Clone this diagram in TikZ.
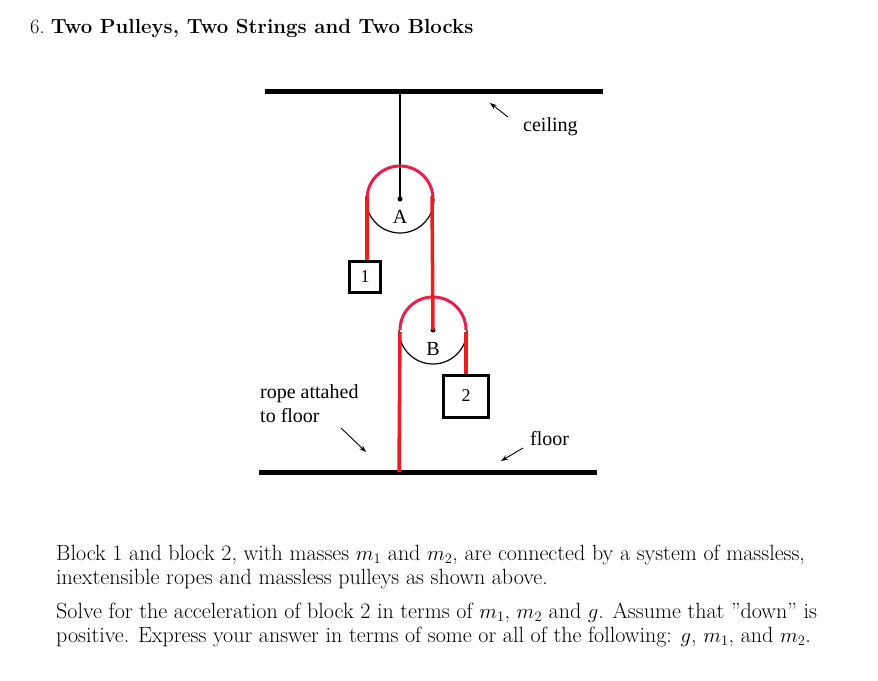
\documentclass[tikz,border=0pt]{standalone}
\usepackage{fontspec}
\usetikzlibrary{arrows.meta}
\newfontfamily\tnr{Liberation Serif}
\begin{document}
\begin{tikzpicture}[x=1pt,y=-1pt,
  bar/.style={line width=5pt},
  red rope/.style={draw={rgb,255:red,237;green,28;blue,36},line width=3.5pt},
  arc rope/.style={draw={rgb,255:red,232;green,30;blue,76},line width=3pt},
  blk/.style={draw,line width=3pt,minimum size=31pt,inner sep=0pt,font=\tnr\fontsize{18}{18}\selectfont},
  lbl/.style={font=\tnr\fontsize{20}{24}\selectfont,inner sep=0pt},
  ptr/.style={-{Stealth[length=7pt,width=5pt]},line width=0.9pt},
  txt/.style={anchor=base west,inner sep=0pt,font=\fontsize{22}{24}\selectfont}]
\useasboundingbox (0,0) rectangle (878,680);
% title
\node[anchor=base west,inner sep=0pt,font=\fontsize{20.4}{24}\selectfont] (title) at (30,33) {6.\ \textbf{Two Pulleys, Two Strings and Two Blocks}};
% ceiling and floor
\coordinate (cl) at (265,91); \coordinate (cr) at (603,91);
\coordinate (fl) at (259,472); \coordinate (fr) at (597,472);
\draw[bar] (cl) -- (cr);
\draw[bar] (fl) -- (fr);
\coordinate (ctop) at (400,91);
\coordinate (A) at (400,199);
\coordinate (B) at (433,330);
\coordinate (ffix) at (399,472);
% pulleys
\draw[line width=1.2pt] (A) ++(-34,0) arc[start angle=180,end angle=0,radius=34];
\draw[line width=1.2pt] (B) ++(-34,0) arc[start angle=180,end angle=0,radius=34];
\draw[line width=2pt] (ctop) -- (A);
\fill (A) circle (2.5pt);
\fill (B) circle (2.5pt);
\node[lbl] (Al) at (400,217) {A};
\node[lbl] (Bl) at (433,349) {B};
% blocks
\node[blk] (b1) at (365,277) {1};
\node[blk,minimum width=45pt,minimum height=42pt] (b2) at (466,396) {2};
% ropes
\draw[arc rope] (A) ++(-33,0) arc[start angle=180,end angle=360,radius=33];
\draw[arc rope] (B) ++(-33,0) arc[start angle=180,end angle=360,radius=33];
\draw[red rope] (367,196) -- (b1.north -| 367,0);
\draw[red rope] (432,196) -- (B);
\draw[red rope] (400,332) -- (ffix);
\draw[red rope] (466,332) -- (b2.north);
% labels
\node[lbl,anchor=west] (ceil) at (523,127) {ceiling};
\draw[ptr] (508,117) -- (490,103);
\node[lbl,anchor=west] (flr) at (530,439) {floor};
\draw[ptr] (523,448) -- (501,461);
\node[lbl,anchor=north west,align=left] (rope) at (260,384) {rope attahed\\to floor};
\draw[ptr] (341,428) -- (366,452);
% text
\node[txt] (t1) at (56,560) {Block 1 and block 2, with masses $m_1$ and $m_2$, are connected by a system of massless,};
\node[txt] (t2) at (56,584) {inextensible ropes and massless pulleys as shown above.};
\node[txt] (t3) at (56,618) {Solve for the acceleration of block 2 in terms of $m_1$, $m_2$ and $g$. Assume that "down" is};
\node[txt] (t4) at (56,642) {positive. Express your answer in terms of some or all of the following: $g$, $m_1$, and $m_2$.};
\end{tikzpicture}
\end{document}
